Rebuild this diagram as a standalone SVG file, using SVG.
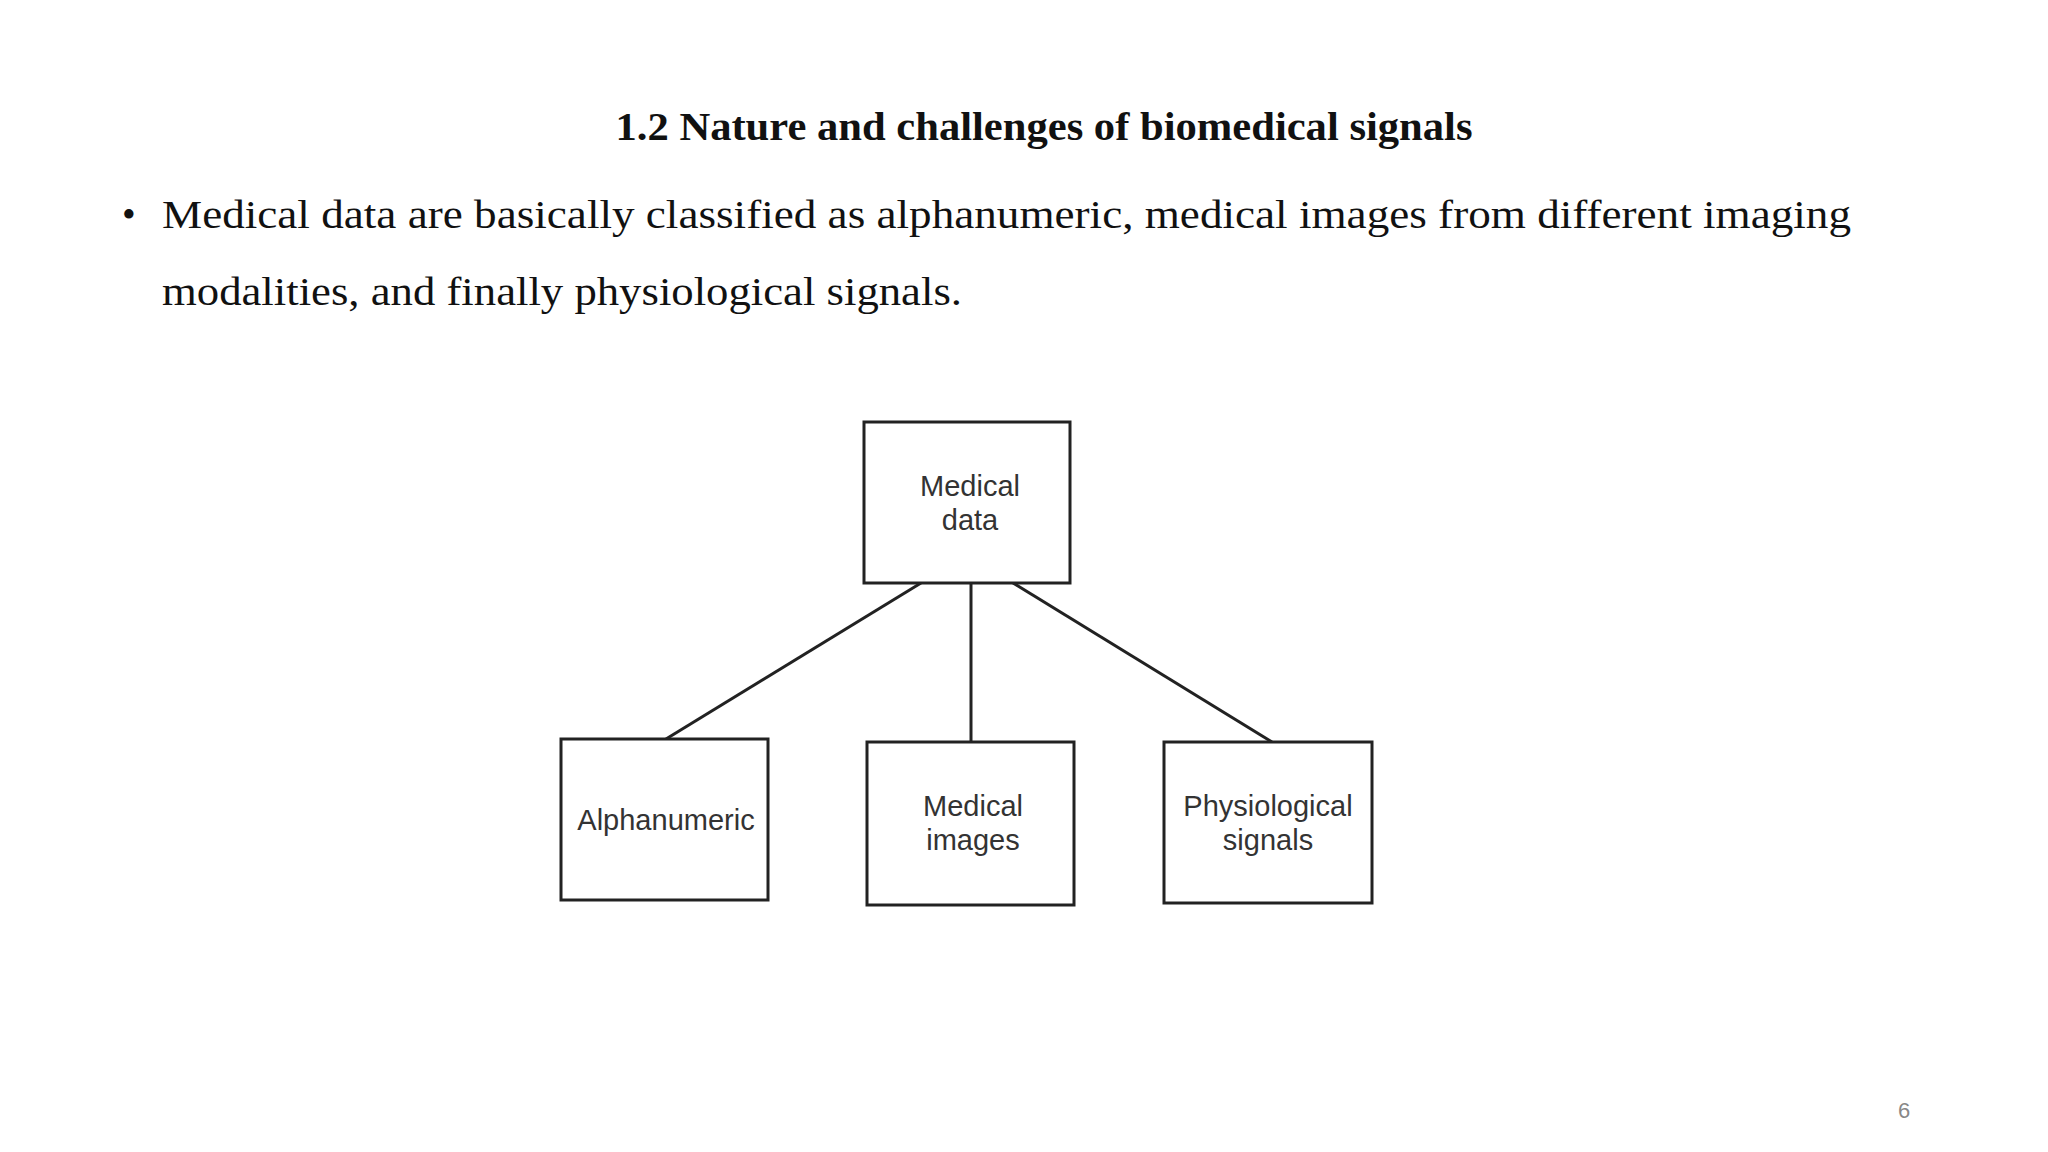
<svg xmlns="http://www.w3.org/2000/svg" width="2048" height="1152" viewBox="0 0 2048 1152">
<style>
.box{fill:#fff;stroke:#222;stroke-width:3}
.lbl{font-family:"Liberation Sans",Arial,sans-serif;font-size:29px;fill:#333;text-anchor:middle}
.body{font-family:"Liberation Serif","DejaVu Serif",serif;font-size:39px;fill:#111}
.con{stroke:#222;stroke-width:3;fill:none}
</style>
<rect width="2048" height="1152" fill="#fff"/>
<text x="1044" y="140" text-anchor="middle" font-family="Liberation Serif,serif" font-weight="bold" font-size="41" fill="#111" textLength="857" lengthAdjust="spacingAndGlyphs">1.2 Nature and challenges of biomedical signals</text>
<text class="body" x="122" y="228">•</text>
<text class="body" x="162" y="228" textLength="1689" lengthAdjust="spacingAndGlyphs">Medical data are basically classified as alphanumeric, medical images from different imaging</text>
<text class="body" x="162" y="305" textLength="800" lengthAdjust="spacingAndGlyphs">modalities, and finally physiological signals.</text>
<g id="connectors">
<line class="con" x1="921" y1="583" x2="666" y2="739"/>
<line class="con" x1="971" y1="583" x2="971" y2="742"/>
<line class="con" x1="1013" y1="583" x2="1272" y2="742"/>
</g>
<g id="n-medical-data"><rect class="box" x="864" y="422" width="206" height="161"/><text class="lbl" x="970" y="496">Medical</text><text class="lbl" x="970" y="530">data</text></g>
<g id="n-alpha"><rect class="box" x="561" y="739" width="207" height="161"/><text class="lbl" x="666" y="830">Alphanumeric</text></g>
<g id="n-images"><rect class="box" x="867" y="742" width="207" height="163"/><text class="lbl" x="973" y="816">Medical</text><text class="lbl" x="973" y="850">images</text></g>
<g id="n-physio"><rect class="box" x="1164" y="742" width="208" height="161"/><text class="lbl" x="1268" y="816">Physiological</text><text class="lbl" x="1268" y="850">signals</text></g>
<text x="1904" y="1118" text-anchor="middle" font-family="Liberation Sans,sans-serif" font-size="22" fill="#888">6</text>
</svg>
